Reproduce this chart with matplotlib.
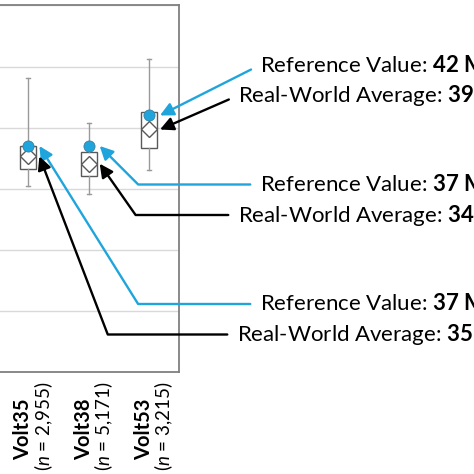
import matplotlib
matplotlib.use("Agg")
import matplotlib.pyplot as plt
from matplotlib.transforms import offset_copy, blended_transform_factory

plt.rcParams['font.family'] = ['Lato', 'DejaVu Sans']
plt.rcParams['mathtext.fontset'] = 'custom'
plt.rcParams['mathtext.rm'] = 'Lato'
plt.rcParams['mathtext.bf'] = 'Lato:bold'
plt.rcParams['mathtext.it'] = 'Lato:italic'

# data
models = ['Volt35', 'Volt38', 'Volt53']
counts = ['2,955', '5,171', '3,215']
whis_lo = [30.5, 29.2, 33.0]
q1 = [33.2, 32.1, 36.6]
median = [35.3, 34.1, 39.7]
q3 = [37.0, 36.05, 42.5]
whis_hi = [48.1, 40.7, 51.2]
real_avg = [35.3, 34.1, 39.7]
ref_value = [37, 37, 42]
ref_labels = ['37', '37', '42']
avg_labels = ['35', '34', '39']

blue = '#1FA5DC'
dark = '#595959'

fig = plt.figure(figsize=(4.74, 4.74), dpi=100)
ax = fig.add_axes([-40 / 474, 102 / 474, 219 / 474, 366.5 / 474])

stats = []
for i in range(len(models)):
    stats.append(dict(whislo=whis_lo[i], q1=q1[i], med=median[i], q3=q3[i],
                      whishi=whis_hi[i], mean=real_avg[i], fliers=[]))

pos = list(range(len(models)))
ax.bxp(stats, positions=pos, widths=0.265, showmeans=True, patch_artist=True,
       boxprops=dict(facecolor='white', edgecolor=dark, linewidth=1.0),
       medianprops=dict(color=dark, linewidth=1.0),
       whiskerprops=dict(color='#9a9a9a', linewidth=1.0),
       capprops=dict(color='#9a9a9a', linewidth=1.0),
       capwidths=0.07,
       meanprops=dict(marker='D', markerfacecolor='white', markeredgecolor=dark,
                      markersize=8.5, markeredgewidth=1.0),
       zorder=3)
ax.plot(pos, ref_value, 'o', color=blue, markersize=8, markeredgecolor='#3a7fa0',
        markeredgewidth=0.6, zorder=4)

ax.set_xlim(-1.134, 2.4975)
ax.set_ylim(0, 60)
ax.set_yticks(range(0, 61, 10))
ax.set_yticklabels([])
ax.grid(axis='y', color='#d9d9d9', linewidth=1.0)
ax.set_axisbelow(True)
for s in ax.spines.values():
    s.set_color('#808080')
    s.set_linewidth(1.3)
ax.tick_params(length=0)
ax.set_xticks(pos)
ax.set_xticklabels([])

# category labels: bold name plus sample size, rotated
xb = blended_transform_factory(ax.transData, ax.transAxes)
name_tr = offset_copy(xb, fig=fig, x=-5, y=-26, units='dots')
n_tr = offset_copy(xb, fig=fig, x=15, y=-10, units='dots')
for i in range(len(models)):
    ax.text(pos[i], 0, models[i], transform=name_tr, rotation=90,
            ha='center', va='top', fontsize=14.5, fontweight='bold')
    ax.text(pos[i], 0, '(' + r'$\mathit{n}$' + ' = %s)' % counts[i], transform=n_tr,
            rotation=90, ha='center', va='top', fontsize=13.5)

# annotations: text positions (figure fraction) and elbow angles
ref_xy = [(260 / 474, 1 - 304 / 474), (260 / 474, 1 - 184.5 / 474), (260 / 474, 1 - 65 / 474)]
avg_xy = [(237 / 474, 1 - 334.5 / 474), (238 / 474, 1 - 215 / 474), (238 / 474, 1 - 95.5 / 474)]
ref_conn = ['angle,angleA=0,angleB=-58,rad=0', 'angle,angleA=0,angleB=-45,rad=0', 'arc3']
avg_conn = ['angle,angleA=0,angleB=-69,rad=0', 'angle,angleA=0,angleB=-55,rad=0', 'arc3']

tip = offset_copy(ax.transData, fig=fig, x=11, y=0, units='dots')

for i in range(len(models)):
    ax.annotate('Reference Value: ' + r'$\mathbf{%s\ MPGe}$' % ref_labels[i],
                xy=(pos[i], ref_value[i]), xycoords=tip,
                xytext=ref_xy[i], textcoords='figure fraction',
                ha='left', va='center', fontsize=16, annotation_clip=False,
                arrowprops=dict(arrowstyle='-|>,head_length=0.8,head_width=0.4',
                                mutation_scale=10, color=blue, lw=1.7,
                                connectionstyle=ref_conn[i], relpos=(0, 0.5),
                                shrinkA=5, shrinkB=0))
    ax.annotate('Real-World Average: ' + r'$\mathbf{%s\ MPGe}$' % avg_labels[i],
                xy=(pos[i], real_avg[i]), xycoords=tip,
                xytext=avg_xy[i], textcoords='figure fraction',
                ha='left', va='center', fontsize=16, annotation_clip=False,
                arrowprops=dict(arrowstyle='-|>,head_length=0.8,head_width=0.4',
                                mutation_scale=10, color='black', lw=1.7,
                                connectionstyle=avg_conn[i], relpos=(0, 0.5),
                                shrinkA=5, shrinkB=0))

fig.savefig('out.png', dpi=100)
